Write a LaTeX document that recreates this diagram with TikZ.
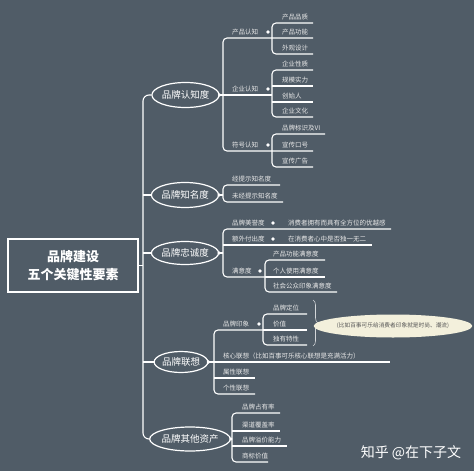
\documentclass[tikz,border=0pt]{standalone}
\usepackage{fontspec}
\setmainfont{Noto Sans CJK SC}
\usetikzlibrary{shapes.geometric,decorations.pathreplacing}
\definecolor{bg}{HTML}{505C67}
\definecolor{txt}{HTML}{E8E8E8}
\definecolor{cream}{HTML}{F3F0DC}
\definecolor{notetxt}{HTML}{555555}
\begin{document}
\begin{tikzpicture}[x=1pt,y=-1pt,
  ln/.style={draw=white,line width=1.1pt,rounded corners=4pt},
  lbl/.style={anchor=base west,inner sep=0,text=txt,font=\fontsize{6.5}{7}\selectfont},
  bub/.style={ellipse,draw=white,line width=1.2pt,inner sep=0,text=white,font=\fontsize{9.5}{10}\selectfont},
  dotc/.style={circle,fill=white,inner sep=0,minimum size=3.6pt}]
\fill[bg] (0,0) rectangle (474,471);
\useasboundingbox (0,0) rectangle (474,471);

% root
\node[draw=white,line width=1.2pt,minimum width=130pt,minimum height=53pt,align=center,text=white,
  font=\fontsize{13}{18}\selectfont\bfseries] (root) at (73,265.5) {品牌建设\\五个关键性要素};

% main bubbles
\node[bub,minimum width=61pt,minimum height=25pt] (e1) at (185.5,95) {品牌认知度};
\node[bub,minimum width=60pt,minimum height=25pt] (e2) at (185,195) {品牌知名度};
\node[bub,minimum width=60pt,minimum height=23pt] (e3) at (185,253) {品牌忠诚度};
\node[bub,minimum width=52pt,minimum height=21pt] (e4) at (181,362) {品牌联想};
\node[bub,minimum width=70pt,minimum height=24pt] (e5) at (190,439) {品牌其他资产};

% trunk
\coordinate (tk) at (143,265);
\draw[ln,rounded corners=6pt] (e1.west) -- (e1.west -| tk) -- (e5.west -| tk) -- (e5.west);
\draw[ln] (e2.west) -- (e2.west -| tk);
\draw[ln] (e3.west) -- (e3.west -| tk);
\draw[ln] (e4.west) -- (e4.west -| tk);
\draw[ln] (root.east) -- (root.east -| tk);

% ---------- group A
\draw[ln] (313,38) -- (223,38) -- (223,151) -- (313,151);
\draw[ln] (e1.east) -- (272,95);
\draw[ln] (313,23) -- (272,23) -- (272,54) -- (313,54);
\draw[ln] (313,70) -- (272,70) -- (272,117) -- (313,117);
\draw[ln] (272,86) -- (313,86);
\draw[ln] (272,102) -- (313,102);
\draw[ln] (325,134) -- (272,134) -- (272,167) -- (313,167);
\node[lbl] (a1) at (232,34.5) {产品认知};
\node[lbl] (a2) at (232,91.5) {企业认知};
\node[lbl] (a3) at (232,147.5) {符号认知};
\node[lbl] (a11) at (282,19.5) {产品品质};
\node[lbl] (a12) at (282,34.5) {产品功能};
\node[lbl] (a13) at (282,50.5) {外观设计};
\node[lbl] (a21) at (282,66.5) {企业性质};
\node[lbl] (a22) at (282,82.5) {规模实力};
\node[lbl] (a23) at (282,98.5) {创始人};
\node[lbl] (a24) at (282,113.5) {企业文化};
\node[lbl] (a31) at (282,130.5) {品牌标识及VI};
\node[lbl] (a32) at (282,147.5) {宣传口号};
\node[lbl] (a33) at (282,163.5) {宣传广告};
\node[dotc] at (268,32) {};
\node[dotc] at (268,89) {};
\node[dotc] at (268,145) {};
\node[dotc] at (e1.east) {};

% ---------- group B
\draw[ln] (280,185) -- (223,185) -- (223,202) -- (283,202);
\draw[ln] (e2.east) -- (223,195);
\node[lbl] (b1) at (232,181.5) {经提示知名度};
\node[lbl] (b2) at (232,198.5) {未经提示知名度};
\node[dotc] at (e2.east) {};

% ---------- group C
\draw[ln] (391,229) -- (223,229) -- (223,277) -- (265,277);
\draw[ln] (223,245) -- (372,245);
\draw[ln] (e3.east) -- (223,253);
\draw[ln] (325,260) -- (265,260) -- (265,292) -- (337,292);
\draw[ln] (265,277) -- (325,277);
\node[lbl] (c1) at (232,225.5) {品牌美誉度};
\node[lbl] (c11) at (288,225.5) {消费者拥有而具有全方位的优越感};
\node[lbl] (c2) at (232,241.5) {额外付出度};
\node[lbl] (c21) at (288,241.5) {在消费者心中是否独一无二};
\node[lbl] (c3) at (232,273.5) {满意度};
\node[lbl] (c31) at (273,256.5) {产品功能满意度};
\node[lbl] (c32) at (273,273.5) {个人使用满意度};
\node[lbl] (c33) at (273,288.5) {社会公众印象满意度};
\node[dotc] at (273,223) {};
\node[dotc] at (273,239) {};
\node[dotc] at (260,271) {};
\node[dotc] at (e3.east) {};

% ---------- group D
\draw[ln] (263,330) -- (214,330) -- (214,394) -- (255,394);
\draw[ln] (214,378) -- (255,378);
\draw[ln] (e4.east) -- (390,362);
\draw[ln] (307,314) -- (263,314) -- (263,345) -- (307,345);
\draw[ln] (263,330) -- (307,330);
\node[lbl] (d1) at (223,326.5) {品牌印象};
\node[lbl] (d2) at (223,358.5) {核心联想（比如百事可乐核心联想是充满活力）};
\node[lbl] (d3) at (223,374.5) {属性联想};
\node[lbl] (d4) at (223,390.5) {个性联想};
\node[lbl] (d11) at (273,310.5) {品牌定位};
\node[lbl] (d12) at (273,326.5) {价值};
\node[lbl] (d13) at (273,341.5) {独有特性};
\node[dotc] at (259,324) {};
\node[dotc] at (e4.east) {};
\draw[decorate,decoration={brace,amplitude=5pt},line width=0.6pt,draw=white!75!bg] (313,300) -- (313,346);
\node[ellipse,fill=cream,minimum width=145pt,minimum height=23pt,inner sep=0,
  font=\fontsize{5.7}{6}\selectfont,text=notetxt] (note) at (393,326) {(比如百事可乐给消费者印象就是时尚、潮流)};

% ---------- group E
\draw[ln] (280,413) -- (232,413) -- (232,462) -- (268,462);
\draw[ln] (232,431) -- (280,431);
\draw[ln] (232,446) -- (287,446);
\draw[ln] (e5.east) -- (232,439);
\node[lbl] (f1) at (242,409.5) {品牌占有率};
\node[lbl] (f2) at (242,427.5) {渠道覆盖率};
\node[lbl] (f3) at (242,442.5) {品牌溢价能力};
\node[lbl] (f4) at (242,458.5) {商标价值};
\node[dotc] at (e5.east) {};

% watermark
\node[text=white,font=\fontsize{14}{15}\selectfont,inner sep=0] (wm) at (411,453) {知乎 @在下子文};
\end{tikzpicture}
\end{document}
